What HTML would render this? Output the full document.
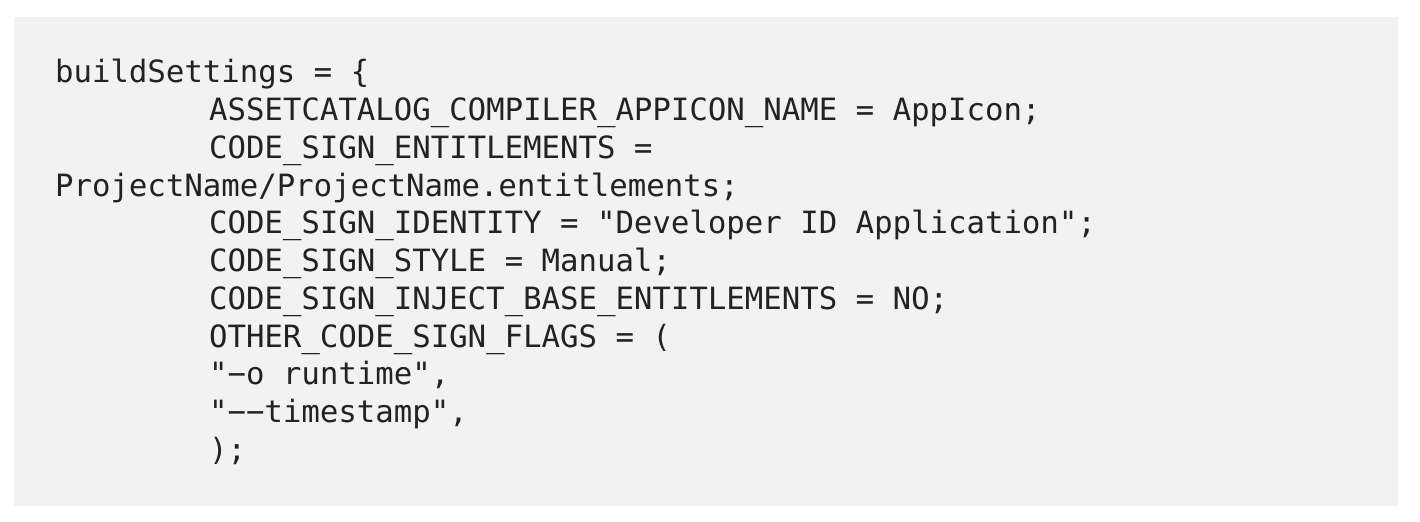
<!DOCTYPE html>
<html><head><meta charset="utf-8"><style>
html,body{margin:0;padding:0;background:#fff;width:1420px;height:522px;overflow:hidden}
.box{position:absolute;left:14px;top:17px;width:1384px;height:489px;background:#f2f2f2}
.l{position:absolute;font-family:"DejaVu Sans Mono","Liberation Mono",monospace;font-size:30.7px;line-height:40px;padding-bottom:6px;color:#222;white-space:pre;text-rendering:geometricPrecision}
</style></head><body>
<div class="box"></div>
<div class="l" style="left:55px;top:53px">buildSettings = {</div>
<div class="l" style="left:209px;top:91px">ASSETCATALOG_COMPILER_APPICON_NAME = AppIcon;</div>
<div class="l" style="left:209px;top:129px">CODE_SIGN_ENTITLEMENTS =</div>
<div class="l" style="left:55px;top:167px">ProjectName/ProjectName.entitlements;</div>
<div class="l" style="left:209px;top:204px">CODE_SIGN_IDENTITY = "Developer ID Application";</div>
<div class="l" style="left:209px;top:242px">CODE_SIGN_STYLE = Manual;</div>
<div class="l" style="left:209px;top:280px">CODE_SIGN_INJECT_BASE_ENTITLEMENTS = NO;</div>
<div class="l" style="left:209px;top:318px">OTHER_CODE_SIGN_FLAGS = (</div>
<div class="l" style="left:209px;top:355px">"−o runtime",</div>
<div class="l" style="left:209px;top:393px">"−−timestamp",</div>
<div class="l" style="left:209px;top:431px">);</div>
</body></html>
